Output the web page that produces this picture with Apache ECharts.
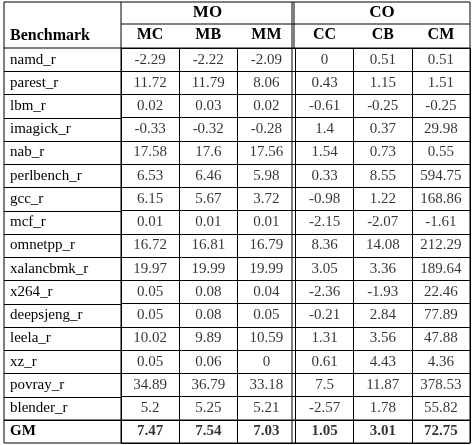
<!DOCTYPE html><html><head><meta charset="utf-8">
<script src="https://cdn.jsdelivr.net/npm/echarts@6/dist/echarts.min.js"></script>
<style>html,body{margin:0;padding:0;background:#fff}#c{width:474px;height:445px}</style></head><body><div id="c"></div>
<script>
const benchmarks=["namd_r","parest_r","lbm_r","imagick_r","nab_r","perlbench_r","gcc_r","mcf_r","omnetpp_r","xalancbmk_r","x264_r","deepsjeng_r","leela_r","xz_r","povray_r","blender_r","GM"];
const columns=["MC","MB","MM","CC","CB","CM"];
const groups=["MO","CO"];
const MC=[-2.29,11.72,0.02,-0.33,17.58,6.53,6.15,0.01,16.72,19.97,0.05,0.05,10.02,0.05,34.89,5.2,7.47];
const MB=[-2.22,11.79,0.03,-0.32,17.6,6.46,5.67,0.01,16.81,19.99,0.08,0.08,9.89,0.06,36.79,5.25,7.54];
const MM=[-2.09,8.06,0.02,-0.28,17.56,5.98,3.72,0.01,16.79,19.99,0.04,0.05,10.59,0,33.18,5.21,7.03];
const CC=[0,0.43,-0.61,1.4,1.54,0.33,-0.98,-2.15,8.36,3.05,-2.36,-0.21,1.31,0.61,7.5,-2.57,1.05];
const CB=[0.51,1.15,-0.25,0.37,0.73,8.55,1.22,-2.07,14.08,3.36,-1.93,2.84,3.56,4.43,11.87,1.78,3.01];
const CM=[0.51,1.51,-0.25,29.98,0.55,594.75,168.86,-1.61,212.29,189.64,22.46,77.89,47.88,4.36,378.53,55.82,72.75];
const cols=[MC,MB,MM,CC,CB,CM];
const font="Liberation Serif";
const data=[];
cols.forEach((arr,ci)=>arr.forEach((v,ri)=>data.push({value:[ci,ri,v],label:{fontWeight:ri===benchmarks.length-1?'bold':'normal'}})));
const L=4,R=470,T=2,H1=24,H2=48,X1=121,XM=294;
const c=echarts.init(document.getElementById('c'));
const ln=(x1,y1,x2,y2)=>({type:'line',shape:{x1,y1,x2,y2},style:{stroke:'#000',lineWidth:1}});
const g=[
  ln(L,T,R,T),ln(X1,H1,R,H1),ln(L,T,L,443),ln(R,T,R,H2),ln(X1,T,X1,H2),ln(XM,T,XM,H2),ln(XM-2,T,XM-2,443),
  ln(L,H2,X1,H2),ln(L,443,X1,443),ln(L,420,R,420),
  {type:'text',x:(X1+XM)/2,y:(T+H1)/2,style:{text:groups[0],font:'bold 17px "Liberation Serif"',fill:'#000',textAlign:'center',textVerticalAlign:'middle'}},
  {type:'text',x:(XM+R)/2,y:(T+H1)/2,style:{text:groups[1],font:'bold 17px "Liberation Serif"',fill:'#000',textAlign:'center',textVerticalAlign:'middle'}},
  {type:'text',x:10,y:(H1+H2)/2,style:{text:'Benchmark',font:'bold 16px "Liberation Serif"',fill:'#000',textVerticalAlign:'middle'}}
];
const opt={
 animation:false,
 grid:{left:X1,right:474-R,top:H2,bottom:445-443,show:true,borderColor:'#000',borderWidth:1},
 xAxis:{type:'category',data:columns,position:'top',boundaryGap:true,
  axisLine:{show:false},axisTick:{show:false},
  axisLabel:{margin:5,fontFamily:font,fontSize:16,fontWeight:'bold',color:'#000'},
  splitLine:{show:true,lineStyle:{color:'#000',width:1}}},
 yAxis:{type:'category',data:benchmarks,inverse:true,boundaryGap:true,
  axisLine:{show:false},axisTick:{show:false},
  axisLabel:{align:'left',margin:111,fontFamily:font,fontSize:15,color:'#000',
   formatter:v=>v==='GM'?'{b|GM}':v,rich:{b:{fontWeight:'bold',fontFamily:font,fontSize:15}}},
  splitLine:{show:true,lineStyle:{color:'#000',width:1}}},
 series:[{type:'scatter',symbolSize:0,data:data,
  label:{show:true,position:'inside',fontFamily:font,fontSize:15,color:'#000',formatter:p=>String(p.value[2])}}],
 graphic:g
};
c.setOption(opt);
for(let i=0;i<benchmarks.length-1;i++){
  const a=c.convertToPixel({yAxisIndex:0},i),b=c.convertToPixel({yAxisIndex:0},i+1);
  const y=Math.round((a+b)/2)+0.5;
  g.push(ln(L,y,X1,y));
}
c.setOption({graphic:g});
</script></body></html>
